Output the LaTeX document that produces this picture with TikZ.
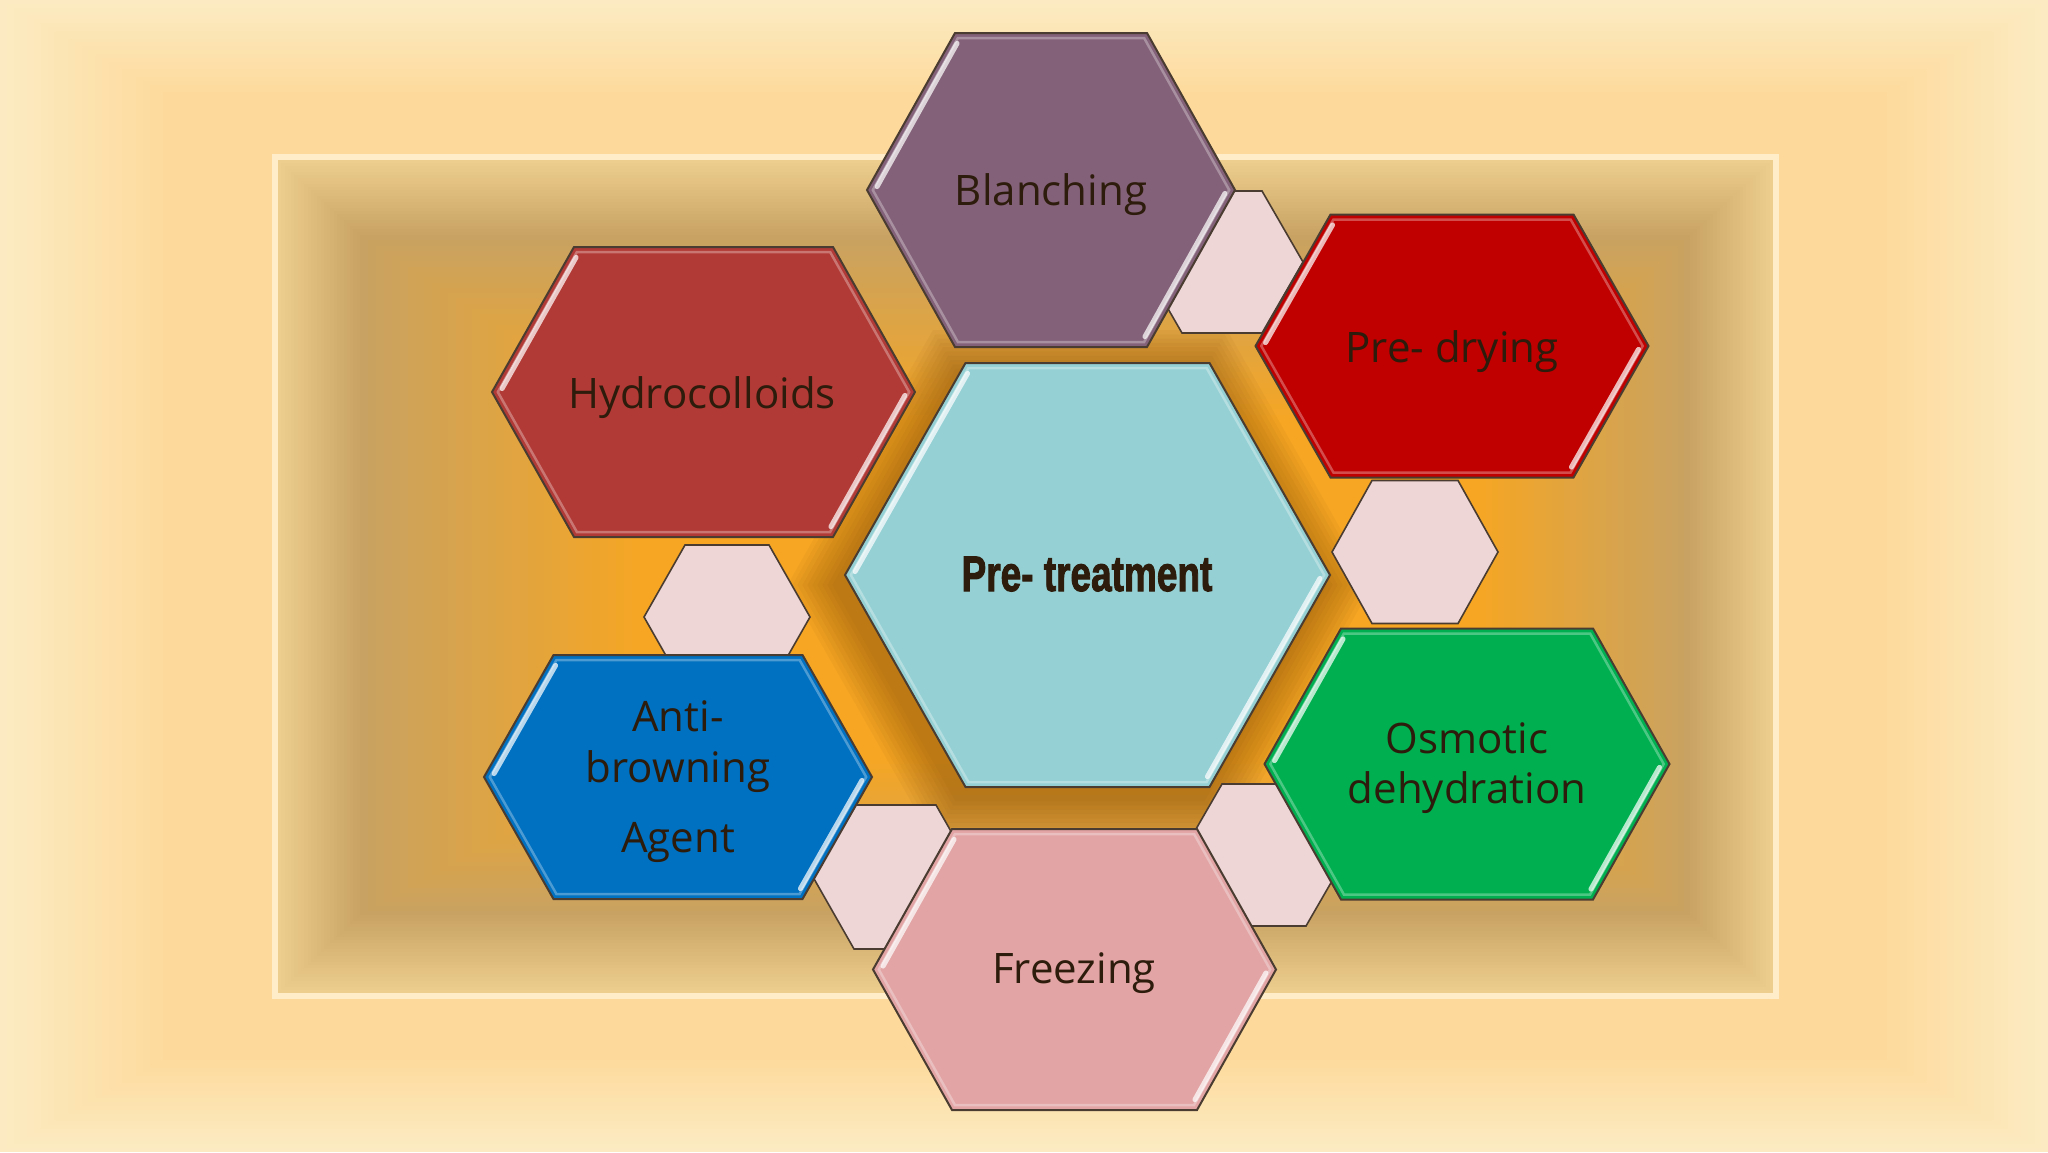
\documentclass[tikz,border=0pt]{standalone}
\usepackage{fontspec}
\usepackage{graphicx}
\newfontfamily\labfont{Open Sans}
\newfontfamily\ctrfont[BoldFeatures={FakeBold=2.2}]{Liberation Sans}
\definecolor{cOut}{HTML}{FCEBC2}
\definecolor{cMid}{HTML}{FDDA9C}
\definecolor{cInA}{HTML}{EDCE8E}
\definecolor{cInB}{HTML}{C8A262}
\definecolor{cOr}{HTML}{F6A623}
\definecolor{hexline}{HTML}{4A3C30}
\definecolor{txtc}{HTML}{2D1B0B}
\definecolor{smallc}{HTML}{EED6D7}
\definecolor{shadowc}{HTML}{7A4606}
\definecolor{cBlanch}{HTML}{836178}
\definecolor{cPredry}{HTML}{C00000}
\definecolor{cHydro}{HTML}{B23A36}
\definecolor{cCentre}{HTML}{94D0D4}
\definecolor{cAnti}{HTML}{0070C0}
\definecolor{cOsmo}{HTML}{00B050}
\definecolor{cFreeze}{HTML}{E2A4A4}
\newcommand\hexpath[5]{({#1-#3},{#2}) -- ({#1-#4},{#2-#5}) -- ({#1+#4},{#2-#5}) -- ({#1+#3},{#2}) -- ({#1+#4},{#2+#5}) -- ({#1-#4},{#2+#5}) -- cycle}
\newcommand\smallhex[5]{\filldraw[fill=smallc, draw=hexline, line width=1.6] \hexpath{#1}{#2}{#3}{#4}{#5};}
\newcommand\bighex[6]{%
  \filldraw[fill=#6, draw=hexline, line width=2] \hexpath{#1}{#2}{#3}{#4}{#5};
  \draw[white, opacity=0.3, line width=2.5] \hexpath{#1}{#2}{(#3-5.8)}{(#4-2.9)}{(#5-5)};
  \draw[hilite] ({#1-#4+6.06-4},{#2-#5+3.5+6.9}) -- ({#1-#3+6.06+4},{#2+3.5-6.9});
  \draw[hilite] ({#1+#3-6.06-4},{#2-3.5+6.9}) -- ({#1+#4-6.06+4},{#2+#5-3.5-6.9});
}
\tikzset{
  hilite/.style={white, opacity=0.72, line width=5, line cap=round},
  lab/.style={anchor=base, inner sep=0, text=txtc, font=\labfont\fontsize{42}{48}\selectfont},
  ctrlab/.style={anchor=base, inner sep=0, text=txtc, font=\ctrfont\bfseries\fontsize{50}{54}\selectfont}
}
\begin{document}
\begin{tikzpicture}[x=1pt, y=-1pt]
\useasboundingbox (0,0) rectangle (2048,1152);
% outer band
\foreach \i in {0,...,40}{
  \pgfmathsetmacro\f{\i/40}
  \pgfmathsetmacro\p{min(100,100*\f/0.6)}
  \fill[cMid!\p!cOut] ({\f*272},{\f*154}) rectangle ({2048-\f*269},{1152-\f*153});
}
% inner box border
\draw[draw={rgb,255:red,255;green,236;blue,200}, line width=6] (275,157) rectangle (1776,996);
% inner stage A
\foreach \i in {0,...,25}{
  \pgfmathsetmacro\f{\i/25}
  \pgfmathsetmacro\p{100*\f}
  \fill[cInB!\p!cInA] ({278+\f*82},{160+\f*75}) rectangle ({1773-\f*83},{993-\f*78});
}
% inner stage B
\foreach \i in {0,...,35}{
  \pgfmathsetmacro\f{\i/35}
  \pgfmathsetmacro\p{100*\f}
  \fill[cOr!\p!cInB] ({360+\f*280},{235+\f*185}) rectangle ({1690-\f*210},{915-\f*155});
}
% shadow around centre hexagon
\foreach \k in {1,...,10}{
  \fill[shadowc, opacity=0.055] \hexpath{1080}{585}{(242.5+5*\k)}{(122+2.5*\k)}{(212+4.3*\k)};
}
% small hexagons
\smallhex{1222}{262}{81}{40}{71}
\smallhex{1415}{552}{83}{43}{71.5}
\smallhex{727}{617}{83}{42}{72}
\smallhex{895}{877}{82}{41}{72}
\smallhex{1264}{855}{83}{42}{71}
% large hexagons
\bighex{703.5}{392}{211.5}{129.5}{145}{cHydro}
\bighex{1051}{190}{184}{96}{157}{cBlanch}
\bighex{1452}{346}{196.5}{121.5}{131.5}{cPredry}
\bighex{1087.5}{575}{242.5}{122}{212}{cCentre}
\bighex{1467}{764}{202.5}{126}{135.5}{cOsmo}
\bighex{678}{777}{194}{124.5}{122}{cAnti}
\bighex{1074.5}{969.5}{201.5}{122.5}{140.5}{cFreeze}
% labels
\node[lab] (blanch) at (1051,205) {Blanching};
\node[lab] (predry) at (1452,362) {Pre- drying};
\node[lab] (hydro) at (702,408) {Hydrocolloids};
\node[lab] (osmoA) at (1467,753) {Osmotic};
\node[lab] (osmoB) at (1467,803) {dehydration};
\node[lab] (antiA) at (678,731) {Anti-};
\node[lab] (antiB) at (678,782) {browning};
\node[lab] (antiC) at (678,852) {Agent};
\node[lab] (freeze) at (1074,983) {Freezing};
\node[ctrlab] (centre) at (1087,591) {\scalebox{0.74}[1]{Pre- treatment}};
\end{tikzpicture}
\end{document}
